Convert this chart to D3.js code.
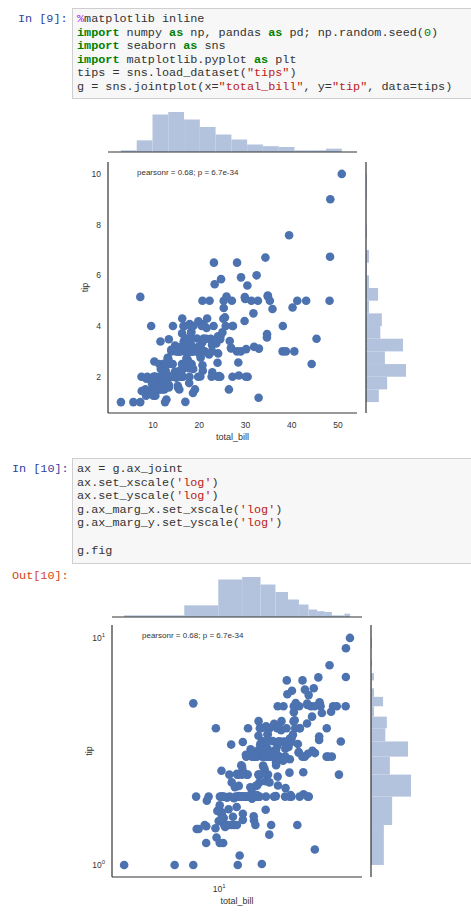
<!DOCTYPE html>
<html>
<head>
<meta charset="utf-8">
<script src="https://cdn.jsdelivr.net/npm/d3@7"></script>
<style>
body { margin: 0; background: #fff; }
svg { display: block; }
</style>
</head>
<body>
<svg id="page" width="471" height="913"></svg>
<script>
// tips dataset: total_bill, tip
var totalBill = [16.99,10.34,21.01,23.68,24.59,25.29,8.77,26.88,15.04,14.78,10.27,35.26,15.42,18.43,14.83,21.58,10.33,16.29,16.97,20.65,17.92,20.29,15.77,39.42,19.82,17.81,13.37,12.69,21.7,19.65,9.55,18.35,15.06,20.69,17.78,24.06,16.31,16.93,18.69,31.27,16.04,17.46,13.94,9.68,30.4,18.29,22.23,32.4,28.55,18.04,12.54,10.29,34.81,9.94,25.56,19.49,38.01,26.41,11.24,48.27,20.29,13.81,11.02,18.29,17.59,20.08,16.45,3.07,20.23,15.01,12.02,17.07,26.86,25.28,14.73,10.51,17.92,27.2,22.76,17.29,19.44,16.66,10.07,32.68,15.98,34.83,13.03,18.28,24.71,21.16,28.97,22.49,5.75,16.32,22.75,40.17,27.28,12.03,21.01,12.46,11.35,15.38,44.3,22.42,20.92,15.36,20.49,25.21,18.24,14.31,14.0,7.25,38.07,23.95,25.71,17.31,29.93,10.65,12.43,24.08,11.69,13.42,14.26,15.95,12.48,29.8,8.52,14.52,11.38,22.82,19.08,20.27,11.17,12.26,18.26,8.51,10.33,14.15,16.0,13.16,17.47,34.3,41.19,27.05,16.43,8.35,18.64,11.87,9.78,7.51,14.07,13.13,17.26,24.55,19.77,29.85,48.17,25.0,13.39,16.49,21.5,12.66,16.21,13.81,17.51,24.52,20.76,31.71,10.59,10.63,50.81,15.81,7.25,31.85,16.82,32.9,17.89,14.48,9.6,34.63,34.65,23.33,45.35,23.17,40.55,20.69,20.9,30.46,18.15,23.1,15.69,19.81,28.44,15.48,16.58,7.56,10.34,43.11,13.0,13.51,18.71,12.74,13.0,16.4,20.53,16.47,26.59,38.73,24.27,12.76,30.06,25.89,48.33,13.27,28.17,12.9,28.15,11.59,7.74,30.14,12.16,13.42,8.58,15.98,13.42,16.27,10.09,20.45,13.28,22.12,24.01,15.69,11.61,10.77,15.53,10.07,12.6,32.83,35.83,29.03,27.18,22.67,17.82,18.78];
var tip = [1.01,1.66,3.5,3.31,3.61,4.71,2.0,3.12,1.96,3.23,1.71,5.0,1.57,3.0,3.02,3.92,1.67,3.71,3.5,3.35,4.08,2.75,2.23,7.58,3.18,2.34,2.0,2.0,4.3,3.0,1.45,2.5,3.0,2.45,3.27,3.6,2.0,3.07,2.31,5.0,2.24,2.54,3.06,1.32,5.6,3.0,5.0,6.0,2.05,3.0,2.5,2.6,5.2,1.56,4.34,3.51,3.0,1.5,1.76,6.73,3.21,2.0,1.98,3.76,2.64,3.15,2.47,1.0,2.01,2.09,1.97,3.0,3.14,5.0,2.2,1.25,3.08,4.0,3.0,2.71,3.0,3.4,1.83,5.0,2.03,5.17,2.0,4.0,5.85,3.0,3.0,3.5,1.0,4.3,3.25,4.73,4.0,1.5,3.0,1.5,2.5,3.0,2.5,3.48,4.08,1.64,4.06,4.29,3.76,4.0,3.0,1.0,4.0,2.55,4.0,3.5,5.07,1.5,1.8,2.92,2.31,1.68,2.5,2.0,2.52,4.2,1.48,2.0,2.0,2.18,1.5,2.83,1.5,2.0,3.25,1.25,2.0,2.0,2.0,2.75,3.5,6.7,5.0,5.0,2.3,1.5,1.36,1.63,1.73,2.0,2.5,2.0,2.74,2.0,2.0,5.14,5.0,3.75,2.61,2.0,3.5,2.5,2.0,2.0,3.0,3.48,2.24,4.5,1.61,2.0,10.0,3.16,5.15,3.18,4.0,3.11,2.0,2.0,4.0,3.55,3.68,5.65,3.5,6.5,3.0,5.0,3.5,2.0,3.5,4.0,1.5,4.19,2.56,2.02,4.0,1.44,2.0,5.0,2.0,2.0,4.0,2.01,2.0,2.5,4.0,3.23,3.41,3.0,2.03,2.23,2.0,5.16,9.0,2.5,6.5,1.1,3.0,1.5,1.44,3.09,2.2,3.48,1.92,3.0,1.58,2.5,2.0,3.0,2.72,2.88,2.0,3.0,3.39,1.47,3.0,1.25,1.0,1.17,4.67,5.92,2.0,2.0,1.75,3.0];

var linXTicks = [10, 20, 30, 40, 50];
var linYTicks = [2, 4, 6, 8, 10];
var logXTicks = [10];
var logYTicks = [1, 10];
var xBins = 14, yBins = 18;
var annotation = "pearsonr = 0.68; p = 6.7e-34";

var code1 = [
  [["%", "#AA22FF"], ["matplotlib inline", "#333"]],
  [["import", "#008000", 1], [" numpy ", "#333"], ["as", "#008000", 1], [" np, pandas ", "#333"], ["as", "#008000", 1], [" pd; np.random.seed(", "#333"], ["0", "#008000"], [")", "#333"]],
  [["import", "#008000", 1], [" seaborn ", "#333"], ["as", "#008000", 1], [" sns", "#333"]],
  [["import", "#008000", 1], [" matplotlib.pyplot ", "#333"], ["as", "#008000", 1], [" plt", "#333"]],
  [["tips = sns.load_dataset(", "#333"], ["\"tips\"", "#BA2121"], [")", "#333"]],
  [["g = sns.jointplot(x=", "#333"], ["\"total_bill\"", "#BA2121"], [", y=", "#333"], ["\"tip\"", "#BA2121"], [", data=tips)", "#333"]]
];
var code2 = [
  [["ax = g.ax_joint", "#333"]],
  [["ax.set_xscale(", "#333"], ["'log'", "#BA2121"], [")", "#333"]],
  [["ax.set_yscale(", "#333"], ["'log'", "#BA2121"], [")", "#333"]],
  [["g.ax_marg_x.set_xscale(", "#333"], ["'log'", "#BA2121"], [")", "#333"]],
  [["g.ax_marg_y.set_yscale(", "#333"], ["'log'", "#BA2121"], [")", "#333"]],
  [],
  [["g.fig", "#333"]]
];

var svg = d3.select("#page");
var blue = "#4C72B0", histFill = "#b3c3de", spine = "#333";
var mono = "'Liberation Mono', monospace";
var sans = "'Liberation Sans', Arial, sans-serif";

function codeCell(prompt, lines, top, bottom, promptX) {
  svg.append("rect").attr("x", 72.5).attr("y", top + 0.5).attr("width", 410).attr("height", bottom - top)
    .attr("fill", "#f7f7f7").attr("stroke", "#cfcfcf");
  svg.append("text").attr("x", promptX).attr("y", top + 14).attr("font-family", mono).attr("font-size", 11.8)
    .attr("fill", "#303F9F").text(prompt);
  lines.forEach(function(parts, i) {
    var t = svg.append("text").attr("x", 77).attr("y", top + 14 + i * 13.6)
      .attr("font-family", mono).attr("font-size", 11.8).attr("xml:space", "preserve");
    parts.forEach(function(p) {
      t.append("tspan").attr("fill", p[1]).attr("font-weight", p[2] ? "bold" : null).text(p[0]);
    });
  });
}

codeCell("In [9]:", code1, 8, 98, 18);
codeCell("In [10]:", code2, 458, 563, 12);
svg.append("text").attr("x", 12).attr("y", 579).attr("font-family", mono).attr("font-size", 11.8)
  .attr("fill", "#D84315").text("Out[10]:");

function linspace(a, b, n) {
  var out = [];
  for (var i = 0; i <= n; i++) out.push(a + (b - a) * i / n);
  return out;
}

function jointPlot(o) {
  var g = svg.append("g");
  var x = o.xScale, y = o.yScale;
  var xr = x.range(), yr = y.range();

  // marginal histograms (linear bins, drawn on each axis scale)
  var xe = d3.extent(totalBill), ye = d3.extent(tip);
  var xb = d3.bin().domain(xe).thresholds(linspace(xe[0], xe[1], xBins).slice(1, -1))(totalBill);
  var yb = d3.bin().domain(ye).thresholds(linspace(ye[0], ye[1], yBins).slice(1, -1))(tip);
  var hx = d3.scaleLinear().domain([0, d3.max(xb, function(d) { return d.length; })]).range([o.margTop, o.margTop - 40]);
  var hy = d3.scaleLinear().domain([0, d3.max(yb, function(d) { return d.length; })]).range([o.margLeft, o.margLeft + 40]);

  g.selectAll(".hx").data(xb).enter().append("rect")
    .attr("x", function(d) { return x(d.x0); })
    .attr("width", function(d) { return x(d.x1) - x(d.x0); })
    .attr("y", function(d) { return hx(d.length); })
    .attr("height", function(d) { return o.margTop - hx(d.length); })
    .attr("fill", histFill);
  g.selectAll(".hy").data(yb).enter().append("rect")
    .attr("y", function(d) { return y(d.x1); })
    .attr("height", function(d) { return y(d.x0) - y(d.x1); })
    .attr("x", o.margLeft)
    .attr("width", function(d) { return hy(d.length) - o.margLeft; })
    .attr("fill", histFill);

  g.append("line").attr("x1", xr[0]).attr("x2", xr[1]).attr("y1", o.margTop).attr("y2", o.margTop)
    .attr("stroke", spine).attr("stroke-width", 1.2);
  g.append("line").attr("x1", o.margLeft).attr("x2", o.margLeft).attr("y1", yr[1]).attr("y2", yr[0])
    .attr("stroke", spine).attr("stroke-width", 1.2);

  // joint points
  g.selectAll(".pt").data(totalBill).enter().append("circle")
    .attr("cx", function(d) { return x(d); })
    .attr("cy", function(d, i) { return y(tip[i]); })
    .attr("r", 4.3).attr("fill", blue);

  // spines
  g.append("line").attr("x1", xr[0]).attr("x2", xr[1]).attr("y1", yr[0]).attr("y2", yr[0])
    .attr("stroke", spine).attr("stroke-width", 1.2);
  g.append("line").attr("x1", xr[0]).attr("x2", xr[0]).attr("y1", yr[0]).attr("y2", yr[1])
    .attr("stroke", spine).attr("stroke-width", 1.2);

  // ticks
  function label(sel, v) {
    if (o.log) {
      sel.text("10");
      sel.append("tspan").attr("dy", -4).attr("font-size", 6).text(Math.round(Math.log10(v)));
    } else sel.text(v);
  }
  o.xTicks.forEach(function(v) {
    var t = g.append("text").attr("x", x(v)).attr("y", yr[0] + 15).attr("text-anchor", "middle")
      .attr("font-family", sans).attr("font-size", 8.5).attr("fill", spine);
    label(t, v);
  });
  o.yTicks.forEach(function(v) {
    var t = g.append("text").attr("x", xr[0] - 7).attr("y", y(v) + 3).attr("text-anchor", "end")
      .attr("font-family", sans).attr("font-size", 8.5).attr("fill", spine);
    label(t, v);
  });

  g.append("text").attr("x", (xr[0] + xr[1]) / 2).attr("y", yr[0] + 27).attr("text-anchor", "middle")
    .attr("font-family", sans).attr("font-size", 9).attr("fill", spine).text("total_bill");
  g.append("text").attr("transform", "translate(" + (xr[0] - 20) + "," + ((yr[0] + yr[1]) / 2) + ") rotate(-90)")
    .attr("text-anchor", "middle").attr("font-family", sans).attr("font-size", 9).attr("fill", spine).text("tip");
  g.append("text").attr("x", o.annX).attr("y", yr[1] + 13).attr("font-family", sans).attr("font-size", 8)
    .attr("fill", spine).text(annotation);
}

jointPlot({
  xScale: d3.scaleLinear().domain([0.27, 54.1]).range([108, 357]),
  yScale: d3.scaleLinear().domain([0.57, 10.47]).range([413, 162]),
  margTop: 152, margLeft: 366, xTicks: linXTicks, yTicks: linYTicks, log: false, annX: 137
});
jointPlot({
  xScale: d3.scaleLog().domain([2.64, 59]).range([112, 362]),
  yScale: d3.scaleLog().domain([0.885, 11.4]).range([877, 625]),
  margTop: 617, margLeft: 371, xTicks: logXTicks, yTicks: logYTicks, log: true, annX: 142
});
</script>
</body>
</html>
